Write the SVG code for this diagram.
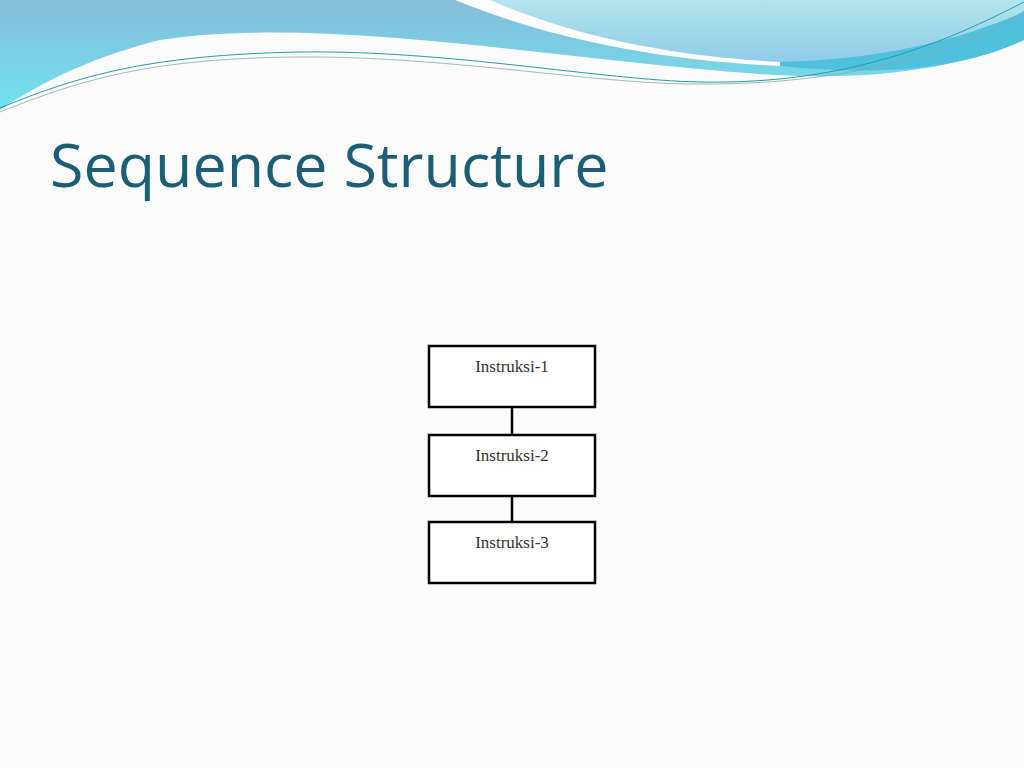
<svg xmlns="http://www.w3.org/2000/svg" width="1024" height="768" viewBox="0 0 1024 768">
<defs>
<linearGradient id="g1" x1="0" y1="0" x2="0" y2="1"><stop offset="0" stop-color="#86bdd9"/><stop offset="1" stop-color="#6fe3ee"/></linearGradient>
<linearGradient id="g2" x1="0" y1="0" x2="0" y2="1"><stop offset="0" stop-color="#b2e6ec"/><stop offset="1" stop-color="#8fcbe9"/></linearGradient>
<style>
.box{fill:#fff;stroke:#000;stroke-width:2.5}
.lbl{font-family:"Liberation Serif",serif;font-size:17px;fill:#333;text-anchor:middle}
.con{stroke:#000;stroke-width:2.5}
</style>
</defs>
<rect width="1024" height="768" fill="#fbfbfb"/>
<path d="M0 0H1024V40C940 75 850 80 760 74C560 60 320 15 160 40C80 60 30 90 0 110Z" fill="url(#g1)"/>
<path d="M455 0H1024V10C960 50 880 68 780 66C650 60 540 35 455 0Z" fill="#ffffff"/>
<path d="M490 0H1024V10C960 50 880 65 780 62C650 55 560 30 490 0Z" fill="url(#g2)"/>
<path d="M780 62C880 60 960 40 1024 12V40C960 70 880 76 780 66Z" fill="#4fc1dc"/>
<path d="M0 108C80 75 150 55 300 52C450 50 600 80 700 82C850 85 950 40 1024 2" fill="none" stroke="#2a9aa8" stroke-width="1"/>
<path d="M0 112C80 80 150 58 300 57C450 56 600 85 700 84C850 85 960 50 1024 14" fill="none" stroke="#8aa" stroke-width="0.8"/>
<text x="50" y="187" font-family="Open Sans,'Noto Sans',sans-serif" font-size="61" fill="#1b5e75">Sequence Structure</text>
<g id="connectors">
<line class="con" x1="512" y1="408" x2="512" y2="434"/>
<line class="con" x1="512" y1="496" x2="512" y2="521"/>
</g>
<g id="n1"><rect class="box" x="429" y="346" width="166" height="61"/><text class="lbl" x="512" y="372">Instruksi-1</text></g>
<g id="n2"><rect class="box" x="429" y="435" width="166" height="61"/><text class="lbl" x="512" y="461">Instruksi-2</text></g>
<g id="n3"><rect class="box" x="429" y="522" width="166" height="61"/><text class="lbl" x="512" y="548">Instruksi-3</text></g>
</svg>
